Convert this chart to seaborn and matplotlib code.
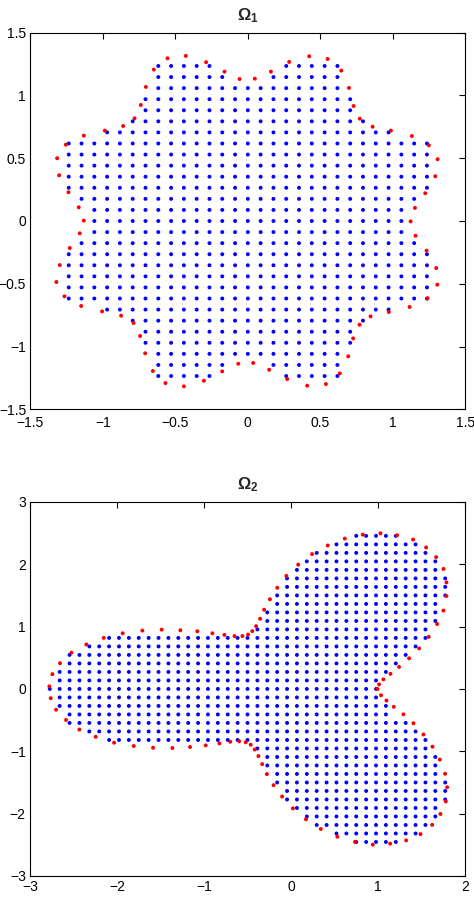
import numpy as np
import pandas as pd
import matplotlib
matplotlib.use("Agg")
import matplotlib.pyplot as plt
from matplotlib.ticker import FuncFormatter
import seaborn as sns

sns.set_style("white")
plt.rcParams.update({
    'font.family': ['Liberation Sans', 'DejaVu Sans'],
    'font.size': 10,
    'mathtext.fontset': 'custom',
    'mathtext.rm': 'Liberation Sans',
    'mathtext.bf': 'Liberation Sans:bold',
    'axes.edgecolor': 'black',
    'axes.linewidth': 0.8,
})

# ---- Omega 1: grid (step), x = i*step, y = j*step
O1_STEP = 0.0882
# row j -> interior column range [lo, hi]
O1_ROWS = [
    (14, -7, -3), (14, 3, 7), (13, -7, -2), (13, 2, 7), (12, -7, 7),
    (11, -8, 8), (10, -8, 8), (9, -9, 9), (8, -11, 11),
    (7, -14, 14), (6, -14, 14), (5, -14, 14), (4, -14, 14), (3, -14, 14),
    (2, -13, 13), (1, -12, 12), (0, -12, 12), (-1, -12, 12), (-2, -13, 13),
    (-3, -14, 14), (-4, -14, 14), (-5, -14, 14), (-6, -14, 14), (-7, -14, 14),
    (-8, -11, 11), (-9, -9, 9), (-10, -8, 8), (-11, -8, 8), (-12, -7, 7),
    (-13, -7, -2), (-13, 2, 7), (-14, -7, -3), (-14, 3, 7),
]
O1_BX = [1.122, 1.152, 1.223, 1.292, 1.308, 1.248, 1.131, 0.986, 0.860, 0.772,
         0.729, 0.697, 0.644, 0.550, 0.423, 0.285, 0.159, 0.048, -0.057, -0.161,
         -0.288, -0.428, -0.554, -0.648, -0.703, -0.738, -0.781, -0.860, -0.986, -1.131,
         -1.255, -1.315, -1.301, -1.237, -1.166, -1.131, -1.159, -1.228, -1.297, -1.320,
         -1.264, -1.149, -1.005, -0.874, -0.788, -0.743, -0.708, -0.655, -0.568, -0.441,
         -0.303, -0.177, -0.066, 0.037, 0.147, 0.271, 0.409, 0.538, 0.634, 0.692,
         0.726, 0.770, 0.846, 0.972, 1.115, 1.239, 1.306, 1.299, 1.232, 1.156]
O1_BY = [-0.003, 0.104, 0.221, 0.356, 0.492, 0.603, 0.677, 0.720, 0.751, 0.815,
         0.916, 1.060, 1.198, 1.291, 1.312, 1.267, 1.190, 1.134, 1.131, 1.190,
         1.265, 1.315, 1.296, 1.206, 1.068, 0.924, 0.818, 0.757, 0.720, 0.680,
         0.608, 0.500, 0.364, 0.229, 0.109, 0.003, -0.098, -0.215, -0.351, -0.486,
         -0.600, -0.677, -0.720, -0.754, -0.813, -0.916, -1.054, -1.195, -1.291, -1.317,
         -1.272, -1.198, -1.137, -1.131, -1.185, -1.259, -1.312, -1.299, -1.214, -1.078,
         -0.935, -0.826, -0.760, -0.725, -0.685, -0.616, -0.507, -0.375, -0.236, -0.117]

# ---- Omega 2: grid x = -3 + k*dx, y = -3 + m*dy
O2_X0, O2_DX = -3.0, 0.1136
O2_Y0, O2_DY = -3.0, 0.1364
O2_ROWS = [
    (40, 33, 37), (39, 31, 39), (38, 29, 40), (37, 28, 41), (36, 27, 41),
    (35, 26, 42), (34, 26, 42), (33, 25, 42), (32, 25, 41), (31, 24, 41),
    (30, 24, 41), (29, 23, 40), (28, 8, 40), (27, 6, 39), (26, 4, 38),
    (25, 4, 37), (24, 3, 36), (23, 3, 35), (22, 2, 35), (21, 3, 35),
    (20, 3, 36), (19, 4, 36), (18, 4, 38), (17, 6, 39), (16, 8, 40),
    (15, 23, 40), (14, 24, 41), (13, 24, 41), (12, 25, 41), (11, 25, 42),
    (10, 26, 42), (9, 26, 42), (8, 27, 41), (7, 28, 41), (6, 29, 40),
    (5, 31, 39), (4, 33, 37),
]
O2_BX = [0.992, 1.011, 1.061, 1.142, 1.241, 1.356, 1.471, 1.582, 1.678, 1.751,
         1.785, 1.785, 1.751, 1.667, 1.552, 1.402, 1.218, 1.027, 0.824, 0.617,
         0.421, 0.241, 0.082, -0.054, -0.159, -0.243, -0.310, -0.356, -0.402, -0.446,
         -0.494, -0.559, -0.650, -0.766, -0.904, -1.077, -1.272, -1.487, -1.709, -1.935,
         -2.153, -2.353, -2.525, -2.655, -2.743, -2.778, -2.762, -2.701, -2.586, -2.433,
         -2.245, -2.034, -1.808, -1.586, -1.364, -1.161, -0.981, -0.824, -0.699, -0.596,
         -0.521, -0.464, -0.418, -0.375, -0.332, -0.278, -0.201, -0.103, 0.021, 0.171,
         0.341, 0.531, 0.734, 0.939, 1.138, 1.322, 1.487, 1.621, 1.716, 1.778,
         1.793, 1.770, 1.709, 1.625, 1.521, 1.406, 1.291, 1.180, 1.096, 1.034]
O2_BY = [0.000, 0.074, 0.154, 0.243, 0.354, 0.492, 0.651, 0.836, 1.042, 1.259,
         1.492, 1.709, 1.926, 2.116, 2.270, 2.397, 2.466, 2.497, 2.476, 2.413,
         2.302, 2.164, 1.995, 1.815, 1.624, 1.439, 1.272, 1.127, 1.008, 0.928,
         0.873, 0.849, 0.849, 0.868, 0.894, 0.926, 0.942, 0.952, 0.937, 0.894,
         0.820, 0.714, 0.582, 0.413, 0.238, 0.042, -0.148, -0.333, -0.497, -0.651,
         -0.767, -0.862, -0.915, -0.942, -0.947, -0.931, -0.905, -0.873, -0.846, -0.839,
         -0.855, -0.894, -0.971, -1.077, -1.206, -1.365, -1.543, -1.725, -1.915, -2.090,
         -2.246, -2.370, -2.453, -2.497, -2.481, -2.429, -2.328, -2.180, -2.005, -1.804,
         -1.577, -1.360, -1.132, -0.926, -0.730, -0.550, -0.407, -0.286, -0.185, -0.101]


def build_frame(rows, x0, dx, y0, dy, bx, by):
    xs, ys = [], []
    for r, lo, hi in rows:
        for c in range(lo, hi + 1):
            xs.append(x0 + c * dx)
            ys.append(y0 + r * dy)
    inner = pd.DataFrame({'x': xs, 'y': ys, 'kind': 'interior'})
    bound = pd.DataFrame({'x': bx, 'y': by, 'kind': 'boundary'})
    return pd.concat([inner, bound], ignore_index=True)


def minus_fmt(v, _):
    return f"{v:g}".replace('-', '\u2212')


def style_axes(ax, xlim, ylim, xt, yt, title):
    ax.set_xlim(*xlim)
    ax.set_ylim(*ylim)
    ax.set_xticks(xt)
    ax.set_yticks(yt)
    ax.xaxis.set_major_formatter(FuncFormatter(minus_fmt))
    ax.yaxis.set_major_formatter(FuncFormatter(minus_fmt))
    ax.tick_params(direction='in', top=True, right=True, length=4,
                   width=0.8, labelsize=10, colors='black')
    ax.tick_params(axis='x', pad=5)
    ax.tick_params(axis='y', pad=3)
    ax.set_xlabel('')
    ax.set_ylabel('')
    ax.set_title(title, fontsize=12, pad=9)
    for s in ax.spines.values():
        s.set_visible(True)
        s.set_color('black')


palette = {'interior': '#0000ff', 'boundary': '#ff0000'}

fig = plt.figure(figsize=(4.74, 8.98), dpi=100)
ax1 = fig.add_axes([0.0639, 0.5442, 0.918, 0.4194])
ax2 = fig.add_axes([0.0633, 0.0245, 0.918, 0.4165])

df1 = build_frame(O1_ROWS, 0.0, O1_STEP, 0.0, O1_STEP, O1_BX, O1_BY)
sns.scatterplot(data=df1, x='x', y='y', hue='kind', palette=palette, s=8,
                linewidth=0, legend=False, ax=ax1)
style_axes(ax1, (-1.5, 1.5), (-1.5, 1.5), np.arange(-1.5, 1.51, 0.5),
           np.arange(-1.5, 1.51, 0.5), r'$\mathbf{\Omega_1}$')

df2 = build_frame(O2_ROWS, O2_X0, O2_DX, O2_Y0, O2_DY, O2_BX, O2_BY)
sns.scatterplot(data=df2, x='x', y='y', hue='kind', palette=palette, s=8,
                linewidth=0, legend=False, ax=ax2)
style_axes(ax2, (-3, 2), (-3, 3), np.arange(-3, 2.1, 1),
           np.arange(-3, 3.1, 1), r'$\mathbf{\Omega_2}$')
ax2.tick_params(axis='x', pad=3)

fig.savefig("out.png", dpi=100)
